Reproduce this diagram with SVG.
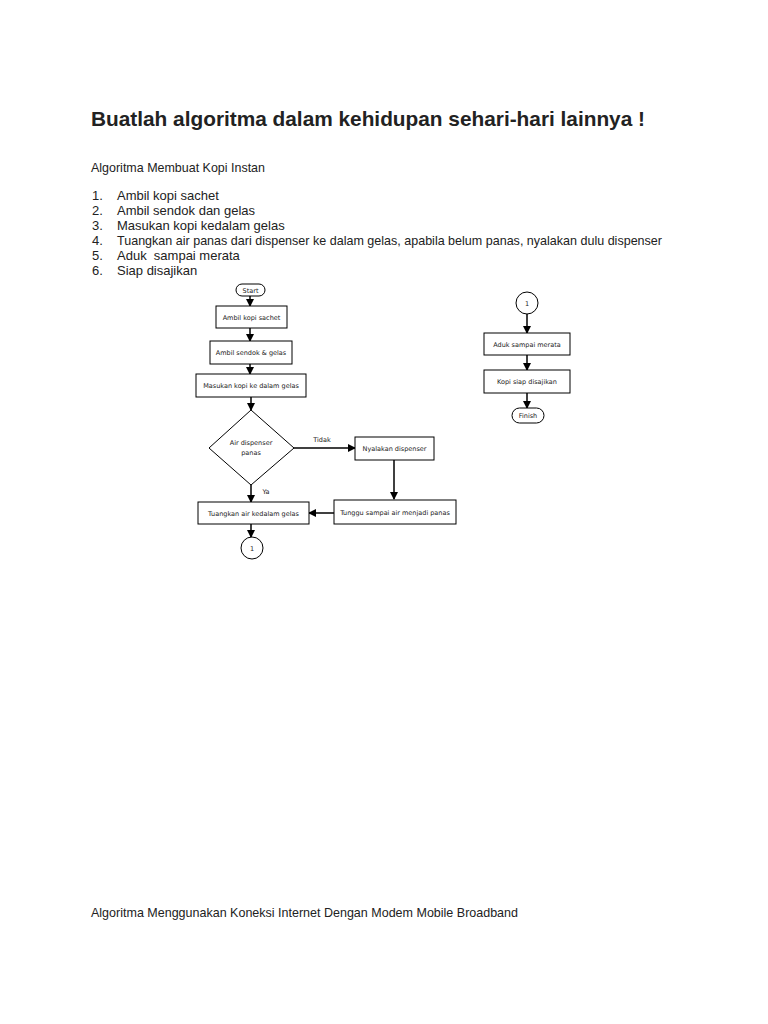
<svg xmlns="http://www.w3.org/2000/svg" width="768" height="1024" viewBox="0 0 768 1024">
<defs>
<marker id="ah" markerWidth="8" markerHeight="8" refX="7" refY="4" orient="auto" markerUnits="userSpaceOnUse">
<path d="M0,0 L8,4 L0,8 Z" fill="#000"/>
</marker>
<style>
.doc{font-family:"Liberation Sans",Arial,sans-serif;fill:#222}
.box{fill:#fff;stroke:#000;stroke-width:1}
.fl{font-family:"DejaVu Sans",Verdana,sans-serif;font-size:6.5px;fill:#222;text-anchor:middle}
.ln{stroke:#000;stroke-width:1.5;fill:none}
.arr{stroke:#000;stroke-width:1.5;fill:none;marker-end:url(#ah)}
</style>
</defs>
<rect width="768" height="1024" fill="#fff"/>
<text class="doc" x="91" y="126" font-size="21" font-weight="bold" textLength="554" lengthAdjust="spacingAndGlyphs">Buatlah algoritma dalam kehidupan sehari-hari lainnya !</text>
<text class="doc" x="91" y="172" font-size="13" textLength="174" lengthAdjust="spacingAndGlyphs">Algoritma Membuat Kopi Instan</text>
<g class="doc" font-size="13">
<text x="92" y="200">1.</text><text x="117" y="200">Ambil kopi sachet</text>
<text x="92" y="215">2.</text><text x="117" y="215">Ambil sendok dan gelas</text>
<text x="92" y="230">3.</text><text x="117" y="230">Masukan kopi kedalam gelas</text>
<text x="92" y="245">4.</text><text x="117" y="245" textLength="545" lengthAdjust="spacingAndGlyphs">Tuangkan air panas dari dispenser ke dalam gelas, apabila belum panas, nyalakan dulu dispenser</text>
<text x="92" y="260">5.</text><text x="117" y="260" xml:space="preserve">Aduk  sampai merata</text>
<text x="92" y="275">6.</text><text x="117" y="275">Siap disajikan</text>
</g>
<g id="connectors">
<line class="arr" x1="250" y1="296" x2="250" y2="306"/>
<line class="arr" x1="250" y1="328" x2="250" y2="341"/>
<line class="arr" x1="250" y1="364" x2="250" y2="374"/>
<line class="arr" x1="251" y1="397" x2="251" y2="410"/>
<line class="arr" x1="294" y1="448" x2="355" y2="448"/>
<line class="arr" x1="394" y1="460" x2="394" y2="499"/>
<line class="arr" x1="334" y1="513" x2="309" y2="513"/>
<line class="arr" x1="251" y1="485" x2="251" y2="502"/>
<line class="arr" x1="251" y1="524" x2="251" y2="537"/>
<line class="arr" x1="527" y1="314" x2="527" y2="333"/>
<line class="arr" x1="527" y1="355" x2="527" y2="370"/>
<line class="arr" x1="527" y1="393" x2="527" y2="408"/>
<text class="fl" x="322" y="442">Tidak</text>
<text class="fl" x="266" y="494">Ya</text>
</g>
<g id="start"><rect class="box" x="236" y="284" width="29" height="12" rx="6"/><text class="fl" x="250.5" y="292.5">Start</text></g>
<g id="ambil-kopi"><rect class="box" x="216" y="306" width="71" height="22"/><text class="fl" x="251.5" y="319.5">Ambil kopi sachet</text></g>
<g id="ambil-sendok"><rect class="box" x="210" y="341" width="82" height="23"/><text class="fl" x="251" y="355">Ambil sendok &amp; gelas</text></g>
<g id="masukan"><rect class="box" x="196" y="374" width="110" height="23"/><text class="fl" x="251" y="388">Masukan kopi ke dalam gelas</text></g>
<g id="decision"><polygon class="box" points="251,410 294,448 251,485 209,448"/><text class="fl" x="251" y="445">Air dispenser</text><text class="fl" x="251" y="455">panas</text></g>
<g id="nyalakan"><rect class="box" x="355" y="437" width="79" height="23"/><text class="fl" x="394.5" y="451">Nyalakan dispenser</text></g>
<g id="tunggu"><rect class="box" x="334" y="500" width="122" height="24"/><text class="fl" x="395" y="514.5">Tunggu sampai air menjadi panas</text></g>
<g id="tuangkan"><rect class="box" x="198" y="502" width="111" height="22"/><text class="fl" x="253.5" y="515.5">Tuangkan air kedalam gelas</text></g>
<g id="conn1a"><circle class="box" cx="252" cy="548" r="11"/><text class="fl" x="252" y="550.5">1</text></g>
<g id="conn1b"><circle class="box" cx="527" cy="303" r="11"/><text class="fl" x="527" y="305.5">1</text></g>
<g id="aduk"><rect class="box" x="484" y="333" width="86" height="22"/><text class="fl" x="527" y="346.5">Aduk sampai merata</text></g>
<g id="kopi-siap"><rect class="box" x="484" y="370" width="86" height="23"/><text class="fl" x="527" y="384">Kopi siap disajikan</text></g>
<g id="finish"><rect class="box" x="512" y="408" width="32" height="15" rx="7.5"/><text class="fl" x="528" y="418">Finish</text></g>
<text class="doc" x="91" y="917" font-size="13" textLength="427" lengthAdjust="spacingAndGlyphs">Algoritma Menggunakan Koneksi Internet Dengan Modem Mobile Broadband</text>
</svg>
